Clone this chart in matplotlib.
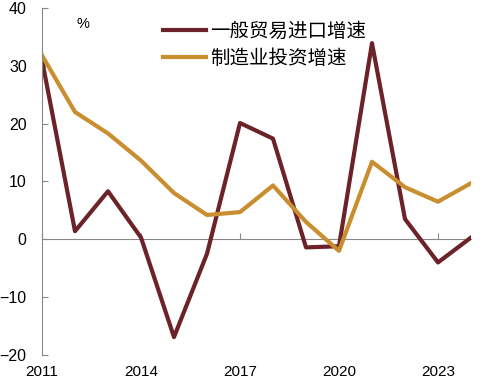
import matplotlib
matplotlib.use('Agg')
import matplotlib.pyplot as plt

plt.rcParams['font.family'] = ['Liberation Sans', 'Noto Sans CJK SC', 'DejaVu Sans']

# datos
anios = list(range(2011, 2025))
importGeneral = [31.0, 1.4, 8.3, 0.3, -16.9, -2.5, 20.1, 17.4, -1.4, -1.2, 33.9, 3.5, -4.0, 0.3]
inversionManuf = [31.8, 22.0, 18.3, 13.6, 8.0, 4.2, 4.7, 9.3, 3.0, -2.0, 13.4, 9.0, 6.5, 9.7]
nombres = ['一般贸易进口增速', '制造业投资增速']
colores = ['#6B2228', '#C88E30']
ticksX = [2011, 2014, 2017, 2020, 2023]
ticksY = [-20, -10, 0, 10, 20, 30, 40]

fig = plt.figure(figsize=(5, 3.84), dpi=100)
ax = fig.add_axes([0.084, 0.0755, 0.858, 0.904])

ax.plot(anios, importGeneral, color=colores[0], linewidth=3, label=nombres[0])
ax.plot(anios, inversionManuf, color=colores[1], linewidth=3, label=nombres[1])

ax.set_xlim(2011, 2024)
ax.set_ylim(-20, 40)
ax.set_yticks(ticksY)
ax.set_xticks(ticksX)

# ejes
for s in ['top', 'right', 'bottom']:
    ax.spines[s].set_visible(False)
ax.spines['left'].set_color('#888888')
ax.spines['left'].set_linewidth(0.8)
ax.tick_params(axis='y', direction='in', length=4, color='#888888', width=0.8,
               labelsize=11.5, pad=11, labelcolor='black')
ax.tick_params(axis='x', length=0, labelsize=11, pad=7)

# eje x en y = 0
sec = ax.secondary_xaxis(1 / 3)
sec.set_xticks(ticksX)
sec.tick_params(direction='in', length=4, color='#888888', width=0.8, labelbottom=False)
sec.spines['bottom'].set_color('#888888')
sec.spines['bottom'].set_linewidth(0.8)

ax.text(0.095, 0.953, '%', transform=ax.transAxes, fontsize=10.5, ha='center', va='center')

ax.legend(loc='upper left', bbox_to_anchor=(0.265, 0.98), frameon=False, fontsize=14,
          handlelength=2.2, handletextpad=0.2, labelspacing=0.45, borderaxespad=0)

plt.savefig('out.png', dpi=100)
